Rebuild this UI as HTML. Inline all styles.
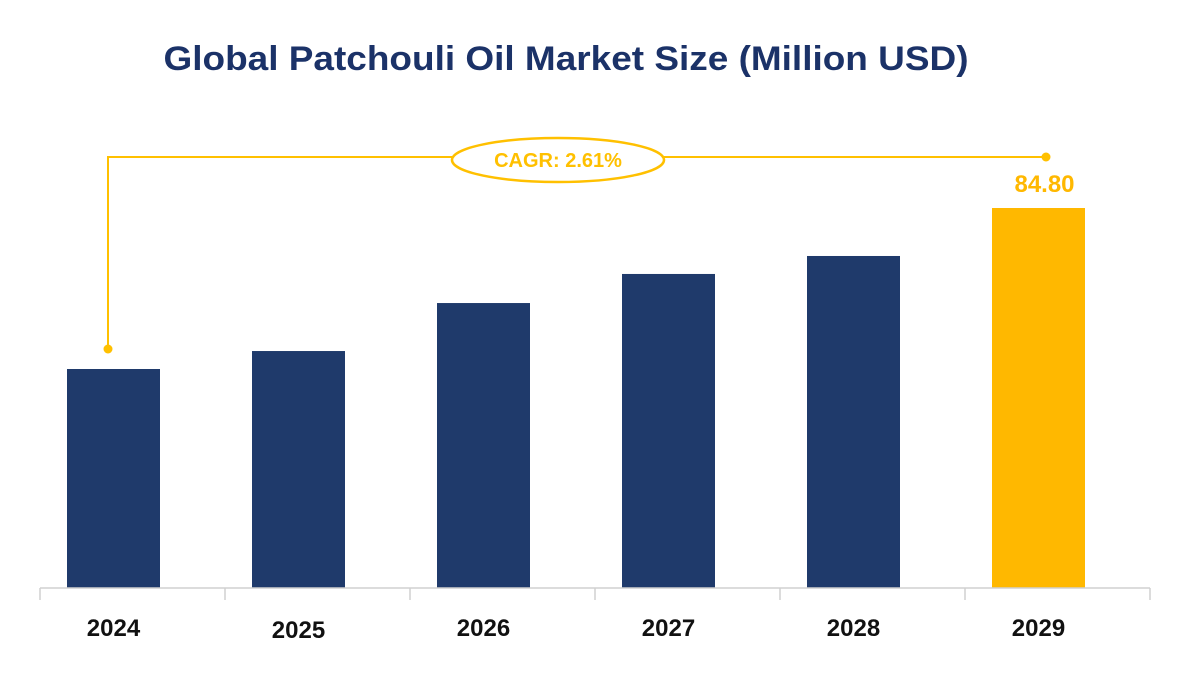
<!DOCTYPE html>
<html><head><meta charset="utf-8"><style>
body{margin:0;background:#fff}
svg{display:block;font-family:"Liberation Sans",sans-serif}
</style></head><body>
<svg id="chart" width="1189" height="679" viewBox="0 0 1189 679">
<text x="566" y="70" text-anchor="middle" font-size="34" font-weight="bold" fill="#1b3268" textLength="805" lengthAdjust="spacingAndGlyphs">Global Patchouli Oil Market Size (Million USD)</text>
<g id="bars"></g>
<line x1="40" y1="588" x2="1150" y2="588" stroke="#d0d0d0" stroke-width="1.5"/>
<g id="ticks"></g>
<g id="labels"></g>
<g id="cagr"></g>
</svg>
<script>
const categories=["2024","2025","2026","2027","2028","2029"];
const values=[74.5,75.65,78.72,80.58,81.73,84.80];
const valueLabels=["","","","","","84.80"];
const cagrText="CAGR: 2.61%";
const ns="http://www.w3.org/2000/svg";
const yMin=60.49,yMax=84.80,baseY=588,topY=208;
function y(v){return baseY-(v-yMin)/(yMax-yMin)*(baseY-topY);}
const x0=40,step=185,barW=93,barOff=73.5;
function xc(i){return x0+step*i+barOff;}
function mk(t,a,p){const e=document.createElementNS(ns,t);for(const k in a)e.setAttribute(k,a[k]);p.appendChild(e);return e;}
const gb=document.getElementById('bars'),gt=document.getElementById('ticks'),gl=document.getElementById('labels'),gc=document.getElementById('cagr');
for(let i=0;i<=categories.length;i++){
 const t=mk('line',{x1:x0+step*i,x2:x0+step*i,y1:588,y2:600,stroke:'#d0d0d0','stroke-width':1.5},gt);
 
 
}
categories.forEach((c,i)=>{
 const last=i===categories.length-1;
 const r=mk('rect',{x:xc(i)-barW/2,y:y(values[i]),width:barW,height:baseY-y(values[i]),fill:last?'#ffb800':'#1f3a6b'},gb);
 
 
 const t=mk('text',{x:xc(i),y:i===1?638:636,'text-anchor':'middle','font-size':24,'font-weight':'bold',fill:'#111'},gl);
 t.textContent=c;
 
 
 if(valueLabels[i]){
  const v=mk('text',{x:xc(i)+6,y:y(values[i])-16,'text-anchor':'middle','font-size':24,'font-weight':'bold',fill:'#ffb800'},gl);
  v.textContent=valueLabels[i];
  
  
 }
});
const lx=xc(0)-5.5,rx=xc(5)+7.5,ly=157;
const p=mk('polyline',{points:`${lx},${y(values[0])-20} ${lx},${ly} ${rx},${ly}`,fill:'none',stroke:'#ffc000','stroke-width':2},gc);


[[lx,y(values[0])-20],[rx,ly]].forEach(d=>{
 const c=mk('circle',{cx:d[0],cy:d[1],r:4.5,fill:'#ffc000'},gc);
 
 
});
const el=mk('ellipse',{cx:558,cy:160,rx:106,ry:22,fill:'#fff',stroke:'#ffc000','stroke-width':2.5},gc);


const ct=mk('text',{x:558,y:167,'text-anchor':'middle','font-size':20,'font-weight':'bold',fill:'#ffc000'},gc);
ct.textContent=cagrText;


</script>
</body></html>
